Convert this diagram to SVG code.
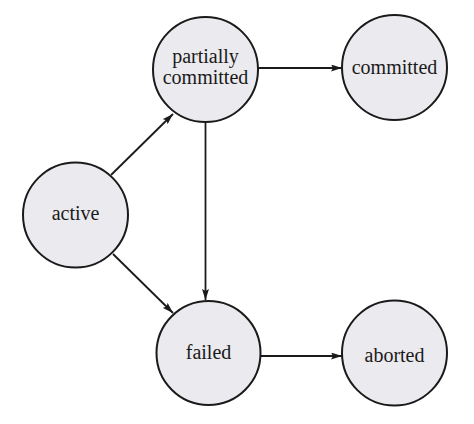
<svg xmlns="http://www.w3.org/2000/svg" width="474" height="424" viewBox="0 0 474 424">
<style>
.node circle{fill:#ebeaee;stroke:#1a1a1a;stroke-width:2}
.node text{font-family:"Liberation Serif",serif;font-size:20px;fill:#1a1a1a;text-anchor:middle}
.edges line{stroke:#1a1a1a;stroke-width:1.8;marker-end:url(#ah)}
</style>
<defs>
<marker id="ah" viewBox="0 0 11 7" refX="11" refY="3.5" markerWidth="11" markerHeight="7" markerUnits="userSpaceOnUse" orient="auto">
<path d="M0,0 L11,3.5 L0,7 L2,3.5 Z" fill="#1a1a1a"/>
</marker>
</defs>
<rect width="474" height="424" fill="#fff"/>
<g class="edges">
<line x1="258" y1="68" x2="342" y2="68"/>
<line x1="111" y1="175" x2="173" y2="114"/>
<line x1="205.5" y1="122" x2="205.5" y2="300"/>
<line x1="113" y1="254" x2="173" y2="313"/>
<line x1="261" y1="356" x2="342" y2="356"/>
</g>
<g class="node" id="partially-committed">
<circle cx="205.5" cy="69.5" r="52.5"/>
<text x="205.5" y="63">partially</text>
<text x="205.5" y="84">committed</text>
</g>
<g class="node" id="committed">
<circle cx="394.5" cy="67.5" r="52.5"/>
<text x="394.5" y="74">committed</text>
</g>
<g class="node" id="active">
<circle cx="75.5" cy="215" r="52.5"/>
<text x="75.5" y="220">active</text>
</g>
<g class="node" id="failed">
<circle cx="208.5" cy="353" r="52"/>
<text x="208.5" y="359">failed</text>
</g>
<g class="node" id="aborted">
<circle cx="394.5" cy="353" r="52.5"/>
<text x="394.5" y="362">aborted</text>
</g>
</svg>
